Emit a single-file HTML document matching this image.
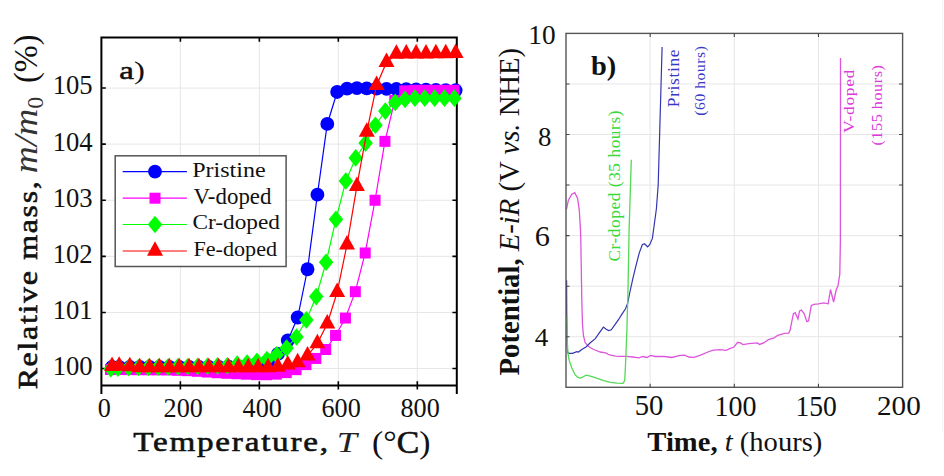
<!DOCTYPE html>
<html><head><meta charset="utf-8"><style>
html,body{margin:0;padding:0;background:#fff;width:944px;height:476px;overflow:hidden}
svg{display:block}
text{font-family:"Liberation Serif",serif;fill:#111}
.ta{font-size:27.5px}
.tl{font-size:21.5px}
.tt{font-size:28px}
.tb{font-size:28px}
.an{font-size:16.2px;letter-spacing:0.6px}
.cmb{stroke:#111;stroke-width:0.6px;paint-order:stroke}
</style></head><body>
<svg width="944" height="476" viewBox="0 0 944 476">
<defs><clipPath id="clipA"><rect x="101.4" y="37.6" width="355.4" height="347.8"/></clipPath></defs>
<rect width="944" height="476" fill="#fff"/>
<line x1="180.38" y1="38.6" x2="180.38" y2="384.4" stroke="#e6e6e6" stroke-width="1"/>
<line x1="259.36" y1="38.6" x2="259.36" y2="384.4" stroke="#e6e6e6" stroke-width="1"/>
<line x1="338.33" y1="38.6" x2="338.33" y2="384.4" stroke="#e6e6e6" stroke-width="1"/>
<line x1="417.31" y1="38.6" x2="417.31" y2="384.4" stroke="#e6e6e6" stroke-width="1"/>
<line x1="102.4" y1="368.55" x2="455.8" y2="368.55" stroke="#e6e6e6" stroke-width="1"/>
<line x1="102.4" y1="312.45" x2="455.8" y2="312.45" stroke="#e6e6e6" stroke-width="1"/>
<line x1="102.4" y1="256.35" x2="455.8" y2="256.35" stroke="#e6e6e6" stroke-width="1"/>
<line x1="102.4" y1="200.25" x2="455.8" y2="200.25" stroke="#e6e6e6" stroke-width="1"/>
<line x1="102.4" y1="144.15" x2="455.8" y2="144.15" stroke="#e6e6e6" stroke-width="1"/>
<line x1="102.4" y1="88.05" x2="455.8" y2="88.05" stroke="#e6e6e6" stroke-width="1"/>
<path d="M101.4 37.6H456.8M101.4 385.4H456.8M101.4 36.6V394M456.8 36.6V394" stroke="#000" stroke-width="2" fill="none"/>
<path d="M101.4 368.55H105.8M456.8 368.55H452.4M101.4 312.45H105.8M456.8 312.45H452.4M101.4 256.35H105.8M456.8 256.35H452.4M101.4 200.25H105.8M456.8 200.25H452.4M101.4 144.15H105.8M456.8 144.15H452.4M101.4 88.05H105.8M456.8 88.05H452.4M180.38 381.2V389.4M180.38 37.6V41.8M259.36 381.2V389.4M259.36 37.6V41.8M338.33 381.2V389.4M338.33 37.6V41.8M417.31 381.2V389.4M417.31 37.6V41.8" stroke="#000" stroke-width="1.6" fill="none"/>
<polyline points="112.06,366.87 119.17,366.87 129.83,366.87 139.7,366.87 149.58,366.87 159.45,366.87 169.32,366.87 179.19,366.87 189.07,366.87 198.94,366.87 208.81,366.87 218.68,366.87 228.55,366.61 238.43,366.32 248.3,366.03 258.17,365.75 268.04,361.82 277.92,353.96 287.79,340.5 297.66,317.5 307.53,269.25 317.4,194.64 327.28,123.95 337.15,91.98 347.02,88.61 356.89,88.05 366.77,88.31 376.64,88.58 386.51,88.8 396.38,89.01 406.25,89.22 416.13,89.43 426,89.64 435.87,89.85 445.74,90.06 455.62,90.27" fill="none" stroke="#0000ff" stroke-width="1.2"/>
<circle cx="112.06" cy="366.87" r="6.9" fill="#0000ff"/><circle cx="119.17" cy="366.87" r="6.9" fill="#0000ff"/><circle cx="129.83" cy="366.87" r="6.9" fill="#0000ff"/><circle cx="139.7" cy="366.87" r="6.9" fill="#0000ff"/><circle cx="149.58" cy="366.87" r="6.9" fill="#0000ff"/><circle cx="159.45" cy="366.87" r="6.9" fill="#0000ff"/><circle cx="169.32" cy="366.87" r="6.9" fill="#0000ff"/><circle cx="179.19" cy="366.87" r="6.9" fill="#0000ff"/><circle cx="189.07" cy="366.87" r="6.9" fill="#0000ff"/><circle cx="198.94" cy="366.87" r="6.9" fill="#0000ff"/><circle cx="208.81" cy="366.87" r="6.9" fill="#0000ff"/><circle cx="218.68" cy="366.87" r="6.9" fill="#0000ff"/><circle cx="228.55" cy="366.61" r="6.9" fill="#0000ff"/><circle cx="238.43" cy="366.32" r="6.9" fill="#0000ff"/><circle cx="248.3" cy="366.03" r="6.9" fill="#0000ff"/><circle cx="258.17" cy="365.75" r="6.9" fill="#0000ff"/><circle cx="268.04" cy="361.82" r="6.9" fill="#0000ff"/><circle cx="277.92" cy="353.96" r="6.9" fill="#0000ff"/><circle cx="287.79" cy="340.5" r="6.9" fill="#0000ff"/><circle cx="297.66" cy="317.5" r="6.9" fill="#0000ff"/><circle cx="307.53" cy="269.25" r="6.9" fill="#0000ff"/><circle cx="317.4" cy="194.64" r="6.9" fill="#0000ff"/><circle cx="327.28" cy="123.95" r="6.9" fill="#0000ff"/><circle cx="337.15" cy="91.98" r="6.9" fill="#0000ff"/><circle cx="347.02" cy="88.61" r="6.9" fill="#0000ff"/><circle cx="356.89" cy="88.05" r="6.9" fill="#0000ff"/><circle cx="366.77" cy="88.31" r="6.9" fill="#0000ff"/><circle cx="376.64" cy="88.58" r="6.9" fill="#0000ff"/><circle cx="386.51" cy="88.8" r="6.9" fill="#0000ff"/><circle cx="396.38" cy="89.01" r="6.9" fill="#0000ff"/><circle cx="406.25" cy="89.22" r="6.9" fill="#0000ff"/><circle cx="416.13" cy="89.43" r="6.9" fill="#0000ff"/><circle cx="426" cy="89.64" r="6.9" fill="#0000ff"/><circle cx="435.87" cy="89.85" r="6.9" fill="#0000ff"/><circle cx="445.74" cy="90.06" r="6.9" fill="#0000ff"/><circle cx="455.62" cy="90.27" r="6.9" fill="#0000ff"/>
<polyline points="110.48,369.47 117.59,369.53 128.25,369.62 138.12,369.7 148,369.78 157.87,369.86 167.74,369.95 177.61,370.3 187.49,370.67 197.36,371.29 207.23,372.02 217.1,372.75 226.97,373.3 236.85,373.75 246.72,374.19 256.59,374.63 266.46,374.72 276.34,374.15 286.21,372.61 296.08,369.67 305.95,364.62 315.82,358.45 325.7,349.48 335.57,335.45 345.44,318.06 355.31,291.69 365.19,252.98 375.06,200.25 384.93,141.35 394.8,100.39 404.67,90.85 414.55,90.29 424.42,90.29 434.29,90.29 444.16,90.29 454.04,90.29" fill="none" stroke="#ff00ff" stroke-width="1.2"/>
<rect x="104.98" y="363.97" width="11" height="11" fill="#ff00ff"/><rect x="112.09" y="364.03" width="11" height="11" fill="#ff00ff"/><rect x="122.75" y="364.12" width="11" height="11" fill="#ff00ff"/><rect x="132.62" y="364.2" width="11" height="11" fill="#ff00ff"/><rect x="142.5" y="364.28" width="11" height="11" fill="#ff00ff"/><rect x="152.37" y="364.36" width="11" height="11" fill="#ff00ff"/><rect x="162.24" y="364.45" width="11" height="11" fill="#ff00ff"/><rect x="172.11" y="364.8" width="11" height="11" fill="#ff00ff"/><rect x="181.99" y="365.17" width="11" height="11" fill="#ff00ff"/><rect x="191.86" y="365.79" width="11" height="11" fill="#ff00ff"/><rect x="201.73" y="366.52" width="11" height="11" fill="#ff00ff"/><rect x="211.6" y="367.25" width="11" height="11" fill="#ff00ff"/><rect x="221.47" y="367.8" width="11" height="11" fill="#ff00ff"/><rect x="231.35" y="368.25" width="11" height="11" fill="#ff00ff"/><rect x="241.22" y="368.69" width="11" height="11" fill="#ff00ff"/><rect x="251.09" y="369.13" width="11" height="11" fill="#ff00ff"/><rect x="260.96" y="369.22" width="11" height="11" fill="#ff00ff"/><rect x="270.84" y="368.65" width="11" height="11" fill="#ff00ff"/><rect x="280.71" y="367.11" width="11" height="11" fill="#ff00ff"/><rect x="290.58" y="364.17" width="11" height="11" fill="#ff00ff"/><rect x="300.45" y="359.12" width="11" height="11" fill="#ff00ff"/><rect x="310.32" y="352.95" width="11" height="11" fill="#ff00ff"/><rect x="320.2" y="343.98" width="11" height="11" fill="#ff00ff"/><rect x="330.07" y="329.95" width="11" height="11" fill="#ff00ff"/><rect x="339.94" y="312.56" width="11" height="11" fill="#ff00ff"/><rect x="349.81" y="286.19" width="11" height="11" fill="#ff00ff"/><rect x="359.69" y="247.48" width="11" height="11" fill="#ff00ff"/><rect x="369.56" y="194.75" width="11" height="11" fill="#ff00ff"/><rect x="379.43" y="135.85" width="11" height="11" fill="#ff00ff"/><rect x="389.3" y="94.89" width="11" height="11" fill="#ff00ff"/><rect x="399.17" y="85.35" width="11" height="11" fill="#ff00ff"/><rect x="409.05" y="84.79" width="11" height="11" fill="#ff00ff"/><rect x="418.92" y="84.79" width="11" height="11" fill="#ff00ff"/><rect x="428.79" y="84.79" width="11" height="11" fill="#ff00ff"/><rect x="438.66" y="84.79" width="11" height="11" fill="#ff00ff"/><rect x="448.54" y="84.79" width="11" height="11" fill="#ff00ff"/>
<polyline points="110.88,368.77 117.99,368.1 128.65,367.74 138.52,367.49 148.39,367.28 158.26,367.09 168.14,366.9 178.01,366.71 187.88,366.52 197.75,366.33 207.63,366.14 217.5,365.94 227.37,365.75 237.24,364.13 247.11,362.98 256.99,361.32 266.86,359.64 276.73,354.73 286.6,348.06 296.48,337.02 306.35,319.88 316.22,296.56 326.09,262.23 335.96,219.37 345.84,181.02 355.71,157.95 365.58,143.05 375.45,125.23 385.33,111.05 395.2,102.41 405.07,99.38 414.94,98.19 424.81,98.15 434.69,98.15 444.56,98.15 454.43,98.15" fill="none" stroke="#00ff00" stroke-width="1.2"/>
<path d="M110.88 359.92L118.13 368.77L110.88 377.62L103.63 368.77Z" fill="#00ff00"/><path d="M117.99 359.25L125.24 368.1L117.99 376.95L110.74 368.1Z" fill="#00ff00"/><path d="M128.65 358.89L135.9 367.74L128.65 376.59L121.4 367.74Z" fill="#00ff00"/><path d="M138.52 358.64L145.77 367.49L138.52 376.34L131.27 367.49Z" fill="#00ff00"/><path d="M148.39 358.43L155.64 367.28L148.39 376.13L141.14 367.28Z" fill="#00ff00"/><path d="M158.26 358.24L165.51 367.09L158.26 375.94L151.01 367.09Z" fill="#00ff00"/><path d="M168.14 358.05L175.39 366.9L168.14 375.75L160.89 366.9Z" fill="#00ff00"/><path d="M178.01 357.86L185.26 366.71L178.01 375.56L170.76 366.71Z" fill="#00ff00"/><path d="M187.88 357.67L195.13 366.52L187.88 375.37L180.63 366.52Z" fill="#00ff00"/><path d="M197.75 357.48L205 366.33L197.75 375.18L190.5 366.33Z" fill="#00ff00"/><path d="M207.63 357.29L214.88 366.14L207.63 374.99L200.38 366.14Z" fill="#00ff00"/><path d="M217.5 357.09L224.75 365.94L217.5 374.79L210.25 365.94Z" fill="#00ff00"/><path d="M227.37 356.9L234.62 365.75L227.37 374.6L220.12 365.75Z" fill="#00ff00"/><path d="M237.24 355.28L244.49 364.13L237.24 372.98L229.99 364.13Z" fill="#00ff00"/><path d="M247.11 354.13L254.36 362.98L247.11 371.83L239.86 362.98Z" fill="#00ff00"/><path d="M256.99 352.47L264.24 361.32L256.99 370.17L249.74 361.32Z" fill="#00ff00"/><path d="M266.86 350.79L274.11 359.64L266.86 368.49L259.61 359.64Z" fill="#00ff00"/><path d="M276.73 345.88L283.98 354.73L276.73 363.58L269.48 354.73Z" fill="#00ff00"/><path d="M286.6 339.21L293.85 348.06L286.6 356.91L279.35 348.06Z" fill="#00ff00"/><path d="M296.48 328.17L303.73 337.02L296.48 345.87L289.23 337.02Z" fill="#00ff00"/><path d="M306.35 311.03L313.6 319.88L306.35 328.73L299.1 319.88Z" fill="#00ff00"/><path d="M316.22 287.71L323.47 296.56L316.22 305.41L308.97 296.56Z" fill="#00ff00"/><path d="M326.09 253.38L333.34 262.23L326.09 271.08L318.84 262.23Z" fill="#00ff00"/><path d="M335.96 210.52L343.21 219.37L335.96 228.22L328.71 219.37Z" fill="#00ff00"/><path d="M345.84 172.17L353.09 181.02L345.84 189.87L338.59 181.02Z" fill="#00ff00"/><path d="M355.71 149.1L362.96 157.95L355.71 166.8L348.46 157.95Z" fill="#00ff00"/><path d="M365.58 134.2L372.83 143.05L365.58 151.9L358.33 143.05Z" fill="#00ff00"/><path d="M375.45 116.38L382.7 125.23L375.45 134.08L368.2 125.23Z" fill="#00ff00"/><path d="M385.33 102.2L392.58 111.05L385.33 119.9L378.08 111.05Z" fill="#00ff00"/><path d="M395.2 93.56L402.45 102.41L395.2 111.26L387.95 102.41Z" fill="#00ff00"/><path d="M405.07 90.53L412.32 99.38L405.07 108.23L397.82 99.38Z" fill="#00ff00"/><path d="M414.94 89.34L422.19 98.19L414.94 107.04L407.69 98.19Z" fill="#00ff00"/><path d="M424.81 89.3L432.06 98.15L424.81 107L417.56 98.15Z" fill="#00ff00"/><path d="M434.69 89.3L441.94 98.15L434.69 107L427.44 98.15Z" fill="#00ff00"/><path d="M444.56 89.3L451.81 98.15L444.56 107L437.31 98.15Z" fill="#00ff00"/><path d="M454.43 89.3L461.68 98.15L454.43 107L447.18 98.15Z" fill="#00ff00"/>
<polyline points="112.06,366.22 119.17,365.79 129.83,366.54 139.7,367.33 149.58,367.43 159.45,367.43 169.32,367.43 179.19,367.43 189.07,367.43 198.94,367.43 208.81,367.43 218.68,367.43 228.55,367.43 238.43,367.43 248.3,367.43 258.17,367.43 268.04,367.43 277.92,366.87 287.79,364.62 297.66,362.38 307.53,355.65 317.4,343.3 327.28,323.67 337.15,292.25 347.02,244.57 356.89,186.22 366.77,131.81 376.64,85.25 386.51,62.24 396.38,53.83 406.25,53.74 416.13,53.65 426,53.55 435.87,53.46 445.74,53.37 455.62,53.28" fill="none" stroke="#ff0000" stroke-width="1.2"/>
<path d="M112.06 356.56L120.06 371.06L104.06 371.06Z" fill="#ff0000"/><path d="M119.17 356.13L127.17 370.63L111.17 370.63Z" fill="#ff0000"/><path d="M129.83 356.87L137.83 371.37L121.83 371.37Z" fill="#ff0000"/><path d="M139.7 357.67L147.7 372.17L131.7 372.17Z" fill="#ff0000"/><path d="M149.58 357.76L157.58 372.26L141.58 372.26Z" fill="#ff0000"/><path d="M159.45 357.76L167.45 372.26L151.45 372.26Z" fill="#ff0000"/><path d="M169.32 357.76L177.32 372.26L161.32 372.26Z" fill="#ff0000"/><path d="M179.19 357.76L187.19 372.26L171.19 372.26Z" fill="#ff0000"/><path d="M189.07 357.76L197.07 372.26L181.07 372.26Z" fill="#ff0000"/><path d="M198.94 357.76L206.94 372.26L190.94 372.26Z" fill="#ff0000"/><path d="M208.81 357.76L216.81 372.26L200.81 372.26Z" fill="#ff0000"/><path d="M218.68 357.76L226.68 372.26L210.68 372.26Z" fill="#ff0000"/><path d="M228.55 357.76L236.55 372.26L220.55 372.26Z" fill="#ff0000"/><path d="M238.43 357.76L246.43 372.26L230.43 372.26Z" fill="#ff0000"/><path d="M248.3 357.76L256.3 372.26L240.3 372.26Z" fill="#ff0000"/><path d="M258.17 357.76L266.17 372.26L250.17 372.26Z" fill="#ff0000"/><path d="M268.04 357.76L276.04 372.26L260.04 372.26Z" fill="#ff0000"/><path d="M277.92 357.2L285.92 371.7L269.92 371.7Z" fill="#ff0000"/><path d="M287.79 354.96L295.79 369.46L279.79 369.46Z" fill="#ff0000"/><path d="M297.66 352.71L305.66 367.21L289.66 367.21Z" fill="#ff0000"/><path d="M307.53 345.98L315.53 360.48L299.53 360.48Z" fill="#ff0000"/><path d="M317.4 333.64L325.4 348.14L309.4 348.14Z" fill="#ff0000"/><path d="M327.28 314L335.28 328.5L319.28 328.5Z" fill="#ff0000"/><path d="M337.15 282.59L345.15 297.09L329.15 297.09Z" fill="#ff0000"/><path d="M347.02 234.9L355.02 249.4L339.02 249.4Z" fill="#ff0000"/><path d="M356.89 176.56L364.89 191.06L348.89 191.06Z" fill="#ff0000"/><path d="M366.77 122.14L374.77 136.64L358.77 136.64Z" fill="#ff0000"/><path d="M376.64 75.58L384.64 90.08L368.64 90.08Z" fill="#ff0000"/><path d="M386.51 52.58L394.51 67.08L378.51 67.08Z" fill="#ff0000"/><path d="M396.38 44.16L404.38 58.66L388.38 58.66Z" fill="#ff0000"/><path d="M406.25 44.07L414.25 58.57L398.25 58.57Z" fill="#ff0000"/><path d="M416.13 43.98L424.13 58.48L408.13 58.48Z" fill="#ff0000"/><path d="M426 43.89L434 58.39L418 58.39Z" fill="#ff0000"/><path d="M435.87 43.8L443.87 58.3L427.87 58.3Z" fill="#ff0000"/><path d="M445.74 43.7L453.74 58.2L437.74 58.2Z" fill="#ff0000"/><path d="M455.62 43.61L463.62 58.11L447.62 58.11Z" fill="#ff0000"/>
<rect x="115.2" y="155.8" width="170.9" height="110.7" fill="#fff" stroke="#555" stroke-width="1.5"/>
<line x1="122.7" y1="171.6" x2="186.9" y2="171.6" stroke="#0000ff" stroke-width="1.2"/>
<circle cx="155" cy="171.6" r="6.9" fill="#0000ff"/>
<line x1="122.7" y1="198.2" x2="186.9" y2="198.2" stroke="#ff00ff" stroke-width="1.2"/>
<rect x="149.5" y="192.7" width="11" height="11" fill="#ff00ff"/>
<line x1="122.7" y1="224.5" x2="186.9" y2="224.5" stroke="#00ff00" stroke-width="1.2"/>
<path d="M155 215.65L162.25 224.5L155 233.35L147.75 224.5Z" fill="#00ff00"/>
<line x1="122.7" y1="251.0" x2="186.9" y2="251.0" stroke="#ff0000" stroke-width="1.2"/>
<path d="M155 241.33L163 255.83L147 255.83Z" fill="#ff0000"/>
<line x1="650.15" y1="34" x2="650.15" y2="386.8" stroke="#e6e6e6" stroke-width="1"/>
<line x1="734.3" y1="34" x2="734.3" y2="386.8" stroke="#e6e6e6" stroke-width="1"/>
<line x1="818.45" y1="34" x2="818.45" y2="386.8" stroke="#e6e6e6" stroke-width="1"/>
<line x1="566.5" y1="336.74" x2="902" y2="336.74" stroke="#e6e6e6" stroke-width="1"/>
<line x1="566.5" y1="286.19" x2="902" y2="286.19" stroke="#e6e6e6" stroke-width="1"/>
<line x1="566.5" y1="235.63" x2="902" y2="235.63" stroke="#e6e6e6" stroke-width="1"/>
<line x1="566.5" y1="185.07" x2="902" y2="185.07" stroke="#e6e6e6" stroke-width="1"/>
<line x1="566.5" y1="134.51" x2="902" y2="134.51" stroke="#e6e6e6" stroke-width="1"/>
<line x1="566.5" y1="83.96" x2="902" y2="83.96" stroke="#e6e6e6" stroke-width="1"/>
<polyline points="566.4,209.4 568.4,200.2 571.8,194.3 574.8,192.6 577.6,198.5 579.3,210.3 580.5,230.4 580.8,240 581.8,300 582.5,325 583.5,336 585.2,342.8 588.6,346.6 593.6,349.5 600.3,352 605.4,352.9 609.6,355 615.5,356.2 620,356.3 626.4,356.3 632.7,357 639.1,357.8 642.8,356.5 647,357.5 650.7,355.4 655,356.5 664.5,356.5 671.9,357.5 679.3,355.6 684.6,355.1 688.9,357 694.2,357.3 700.5,355.2 707.9,352 713.2,350.1 720.1,349.7 726,350.3 730.3,348.4 733.6,347.3 737.5,342.5 740,342.7 743,344.6 748.9,343.7 757.4,342.9 759.5,344.4 764.2,342.7 768.4,339.5 773.5,338.2 777.7,335.4 784.5,333.4 788.7,333.1 790.2,330 791.3,324.2 793.4,313.6 795.2,312.7 797.9,318.9 799.6,310.9 801.4,310 804.1,313.6 806.8,321.6 808.6,320.7 811.3,305.5 813.9,304.3 818.4,303.8 823.8,302.9 828.2,303.8 830.5,289.5 833.6,302 836.3,289.5 838,285.9 839.8,274.3 840.4,240 840.5,58" fill="none" stroke="#dd55dd" stroke-width="1.3"/>
<polyline points="566.6,280.2 566.8,320 567.1,345 567.6,352.6 569.2,353.4 572.6,353.4 576.8,351.7 578.5,352 581.8,349.5 586,347 590.3,342.8 595.3,338.6 599.5,332.7 603.4,327.1 606.2,329.3 608.7,330.5 611.3,329.8 614.6,325.1 618.8,319.2 621.3,315.1 625.5,308.8 627.6,303.5 629.7,293 632.9,278.3 636,265.7 639.2,253.1 642.3,244.7 644.4,243.7 647.6,246.8 649.7,244.7 652.4,238.4 653.8,228 656.4,208.8 658.2,184.7 658.9,160 660.6,100.5 662.1,47.1" fill="none" stroke="#3535b0" stroke-width="1.2"/>
<polyline points="566.8,316 567.2,340 568,353.7 569.2,360.4 571.8,368 575.1,374.7 577.6,377.2 580.2,378.1 582.7,377.2 586,375.2 589.4,375.9 593.6,377.2 598.7,378.9 603.7,380.6 610.4,382.3 617.1,383.1 623,383.4 624.7,380.6 625.5,365 626.9,330 628,290 629.1,230 631.3,159.8" fill="none" stroke="#55d855" stroke-width="1.3"/>
<rect x="566" y="33.4" width="336.6" height="353.9" fill="none" stroke="#555" stroke-width="1.4"/>
<path d="M566 336.74H569.5M902.6 336.74H899.1M566 286.19H569.5M902.6 286.19H899.1M566 235.63H569.5M902.6 235.63H899.1M566 185.07H569.5M902.6 185.07H899.1M566 134.51H569.5M902.6 134.51H899.1M566 83.96H569.5M902.6 83.96H899.1M650.15 387.3V383.8M650.15 33.4V36.9M734.3 387.3V383.8M734.3 33.4V36.9M818.45 387.3V383.8M818.45 33.4V36.9" stroke="#444" stroke-width="1.1" fill="none"/>
<g transform="matrix(1.1834 0 0 0.9840 -24.089 6.282)"><text x="133" y="452" class="tt cmb" letter-spacing="1.5">Temperature,</text></g>
<g transform="matrix(1.2968 0 0 1.0575 -104.073 -26.105)"><text x="340" y="452" class="tt" font-style="italic" style="fill:#222">T</text></g>
<g transform="matrix(1.2022 0 0 1.1160 -76.414 -51.449)"><text x="373" y="452" class="tt">(°<tspan class="cmb">C</tspan>)</text></g>
<g transform="matrix(1.0082 0 0 1.1392 -0.591 -52.650)"><text transform="translate(37,388) rotate(-90)" class="tt cmb" letter-spacing="1.5">Relative mass,</text></g>
<g transform="matrix(1.2337 0 0 1.3369 -8.323 -56.816)"><text transform="translate(37,172) rotate(-90)" class="tt" font-style="italic" style="fill:#333">m/m<tspan font-size="18" dy="5" font-style="normal">0</tspan></text></g>
<g transform="matrix(1.1686 0 0 1.1544 -5.851 -11.720)"><text transform="translate(37,82) rotate(-90)" class="tt">(%)</text></g>
<g transform="matrix(1.1747 0 0 0.9080 -21.643 7.647)"><text x="120" y="79" class="tt"><tspan class="cmb">a</tspan>)</text></g>
<g transform="matrix(1.1178 0 0 1.0069 -23.500 -1.072)"><text x="193" y="177" class="tl">Pristine</text></g>
<g transform="matrix(1.0653 0 0 1.0667 -12.168 -12.933)"><text x="193" y="203" class="tl">V-doped</text></g>
<g transform="matrix(1.0834 0 0 1.0205 -16.606 -5.410)"><text x="193" y="230" class="tl">Cr-doped</text></g>
<g transform="matrix(1.0286 0 0 1.0154 -5.029 -4.208)"><text x="193" y="256" class="tl">Fe-doped</text></g>
<g transform="matrix(1.0170 0 0 0.9782 -10.014 1.909)"><text x="591" y="75" class="tb" font-weight="bold">b)</text></g>
<g transform="matrix(1.0218 0 0 1.0059 -14.756 -2.663)"><text x="648" y="451" class="tb"><tspan font-weight="bold">Time,</tspan> <tspan font-style="italic">t</tspan> (hours)</text></g>
<g transform="matrix(1.0157 0 0 1.0247 -9.043 -8.894)"><text transform="translate(519.4,375.1) rotate(-90)" class="tb"><tspan font-weight="bold">Potential,</tspan> <tspan font-style="italic">E</tspan>-<tspan font-style="italic">iR</tspan> (V <tspan font-style="italic">vs.</tspan> NHE)</text></g>
<g transform="matrix(1.0780 0 0 1.0584 -49.890 -14.550)"><text transform="translate(621,260.9) rotate(-90)" class="an" style="fill:#3ad83a">Cr-doped  (35 hours)</text></g>
<g transform="matrix(1.0455 0 0 1.0749 -31.248 -7.506)"><text transform="translate(679.4,106.7) rotate(-90)" class="an" style="fill:#3838c8">Pristine</text></g>
<g transform="matrix(0.9448 0 0 0.9606 36.028 5.256)"><text transform="translate(707.8,115) rotate(-90)" class="an" style="fill:#3838c8">(60 hours)</text></g>
<g transform="matrix(0.8475 0 0 1.0781 127.051 -9.241)"><text transform="translate(857.3,132) rotate(-90)" class="an" style="fill:#dc38dc">V-doped</text></g>
<g transform="matrix(0.9655 0 0 0.9912 26.555 3.307)"><text transform="translate(885.7,143.5) rotate(-90)" class="an" style="fill:#dc38dc">(155 hours)</text></g>
<g transform="matrix(0.9755 0 0 1.0105 10.265 -0.816)"><text x="531" y="44" class="tb">10</text></g>
<g transform="matrix(0.9583 0 0 0.9947 21.400 0.225)"><text x="539" y="147" class="tb">8</text></g>
<g transform="matrix(1.0833 0 0 1.0293 -46.021 -7.373)"><text x="536" y="246" class="tb">6</text></g>
<g transform="matrix(0.9692 0 0 0.9081 16.177 31.495)"><text x="535" y="346" class="tb">4</text></g>
<g transform="matrix(1.0235 0 0 1.0211 -16.200 -9.313)"><text x="636" y="416" class="tb">50</text></g>
<g transform="matrix(1.0000 0 0 1.0158 -2.400 -6.622)"><text x="717" y="416" class="tb">100</text></g>
<g transform="matrix(0.9844 0 0 1.0158 9.875 -6.622)"><text x="798" y="416" class="tb">150</text></g>
<g transform="matrix(1.0415 0 0 1.0000 -37.447 -0.750)"><text x="878" y="416" class="tb">200</text></g>
<g transform="matrix(0.9695 0 0 0.9784 3.957 7.085)"><text x="91.5" y="376" text-anchor="end" class="ta">100</text></g>
<g transform="matrix(0.9695 0 0 0.9784 3.957 -49.015)"><text x="91.5" y="376" text-anchor="end" class="ta">101</text></g>
<g transform="matrix(0.9695 0 0 0.9784 3.957 -105.115)"><text x="91.5" y="376" text-anchor="end" class="ta">102</text></g>
<g transform="matrix(0.9695 0 0 0.9784 3.957 -161.215)"><text x="91.5" y="376" text-anchor="end" class="ta">103</text></g>
<g transform="matrix(0.9695 0 0 0.9784 3.957 -217.315)"><text x="91.5" y="376" text-anchor="end" class="ta">104</text></g>
<g transform="matrix(0.9695 0 0 0.9784 3.957 -273.415)"><text x="91.5" y="376" text-anchor="end" class="ta">105</text></g>
<g transform="matrix(0.9513 0 0 0.9946 -70.050 2.108)"><text x="183.2" y="417.5" text-anchor="middle" class="ta">0</text></g>
<g transform="matrix(0.9513 0 0 0.9946 8.928 2.108)"><text x="183.2" y="417.5" text-anchor="middle" class="ta">200</text></g>
<g transform="matrix(0.9513 0 0 0.9946 87.905 2.108)"><text x="183.2" y="417.5" text-anchor="middle" class="ta">400</text></g>
<g transform="matrix(0.9513 0 0 0.9946 166.883 2.108)"><text x="183.2" y="417.5" text-anchor="middle" class="ta">600</text></g>
<g transform="matrix(0.9513 0 0 0.9946 245.861 2.108)"><text x="183.2" y="417.5" text-anchor="middle" class="ta">800</text></g>
<line x1="942.5" y1="0" x2="942.5" y2="432" stroke="#f5f5f5" stroke-width="1"/>
</svg></body></html>
